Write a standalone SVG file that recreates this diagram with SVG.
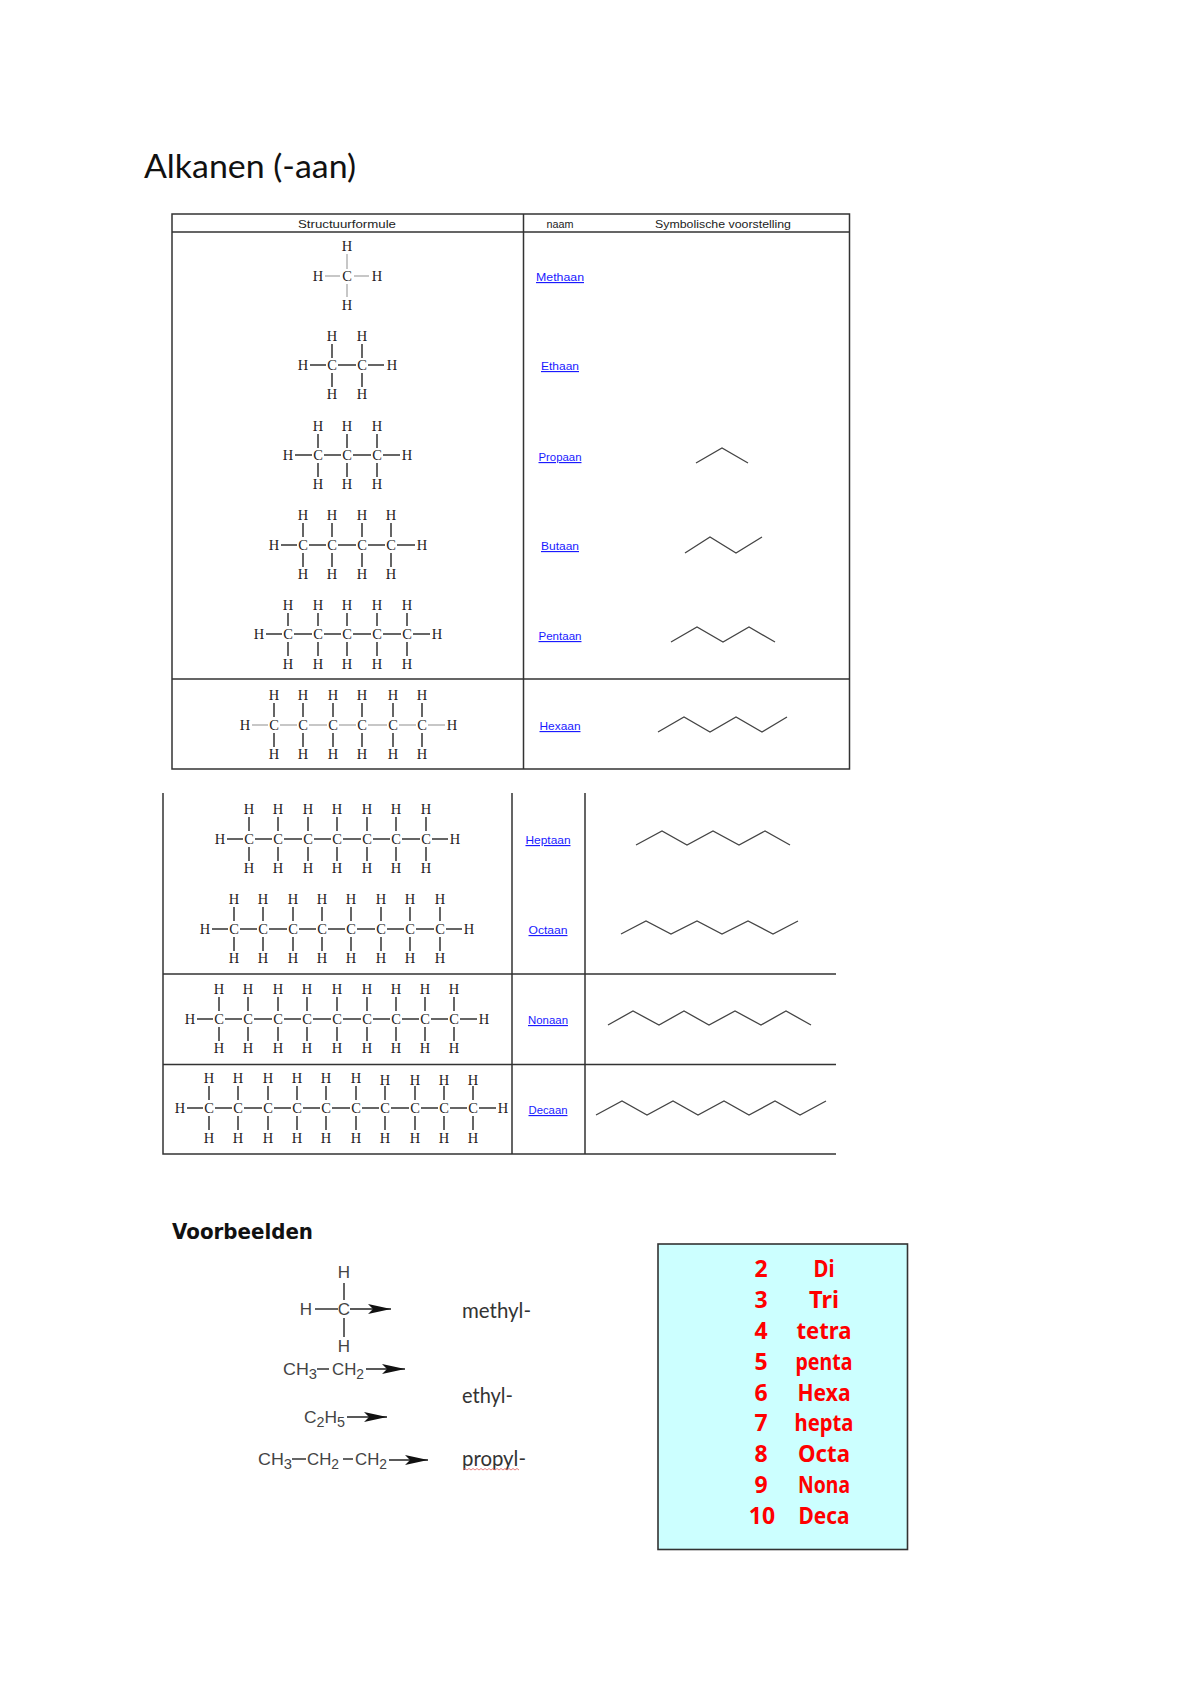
<svg xmlns="http://www.w3.org/2000/svg" width="1200" height="1698" viewBox="0 0 1200 1698">
<defs>
<marker id="ah" markerUnits="userSpaceOnUse" markerWidth="24" markerHeight="12" refX="23" refY="5" orient="auto"><path d="M0 0L23 5L0 10L5 5Z" fill="#111"/></marker>
</defs>
<style>
.a{font:14.5px "Liberation Serif",serif;fill:#222;text-anchor:middle}
.b{fill:none;stroke:#333;stroke-width:1.5}
.g{fill:none;stroke:#b5b5b5;stroke-width:1.5}
.t{fill:none;stroke:#333;stroke-width:1.5}
.z{fill:none;stroke:#444;stroke-width:1.3}
.h{font:11.5px "Liberation Sans",sans-serif;fill:#222;text-anchor:middle}
.l{font:11.5px "Liberation Sans",sans-serif;fill:#1a1aff;text-anchor:middle;text-decoration:underline}
.f{font:17px "Liberation Sans",sans-serif;fill:#444}
.n{font:21px Lato,"Liberation Sans",sans-serif;fill:#333}
.r{font:700 23px "Noto Sans",sans-serif;fill:#ff0000;text-anchor:middle}
.ar{stroke:#222;stroke-width:1.5;fill:none;marker-end:url(#ah)}
</style>
<rect width="1200" height="1698" fill="#fff"/>
<text id="title" x="144" y="178" font-family="Lato, 'Liberation Sans', sans-serif" font-size="33" fill="#111" textLength="212" lengthAdjust="spacingAndGlyphs">Alkanen (-aan)</text>

<g id="table1">
<path class="t" d="M172 214H849.5V769H172ZM172 232H849.5M172 679H849.5M523.5 214V769"/>
<text class="h" x="347" y="228" textLength="98" lengthAdjust="spacingAndGlyphs">Structuurformule</text>
<text class="h" x="560" y="228" textLength="27" lengthAdjust="spacingAndGlyphs">naam</text>
<text class="h" x="723" y="228" textLength="136" lengthAdjust="spacingAndGlyphs">Symbolische voorstelling</text>
<text class="l" x="560" y="281" textLength="48" lengthAdjust="spacingAndGlyphs">Methaan</text>
<text class="l" x="560" y="370" textLength="38" lengthAdjust="spacingAndGlyphs">Ethaan</text>
<text class="l" x="560" y="461" textLength="43" lengthAdjust="spacingAndGlyphs">Propaan</text>
<text class="l" x="560" y="550" textLength="38" lengthAdjust="spacingAndGlyphs">Butaan</text>
<text class="l" x="560" y="640" textLength="43" lengthAdjust="spacingAndGlyphs">Pentaan</text>
<text class="l" x="560" y="730" textLength="41" lengthAdjust="spacingAndGlyphs">Hexaan</text>
</g>

<g id="table2">
<path class="t" d="M163 793V1154H836M512 793V1154M585 793V1154M163 974H836M163 1064.5H836"/>
<text class="l" x="548" y="844" textLength="45" lengthAdjust="spacingAndGlyphs">Heptaan</text>
<text class="l" x="548" y="934" textLength="39" lengthAdjust="spacingAndGlyphs">Octaan</text>
<text class="l" x="548" y="1024" textLength="40" lengthAdjust="spacingAndGlyphs">Nonaan</text>
<text class="l" x="548" y="1114" textLength="39" lengthAdjust="spacingAndGlyphs">Decaan</text>
</g>

<g id="zigzags">
<polyline class="z" points="696,463 722,448 748,463"/>
<polyline class="z" points="685,553 710,537 736,553 762,537"/>
<polyline class="z" points="671,642 697,627 723,642 749,627 775,642"/>
<polyline class="z" points="658,732 684,717 710,732 736,717 762,732 787,717"/>
<polyline class="z" points="636,845 662,831 687,845 713,831 739,845 765,831 790,845"/>
<polyline class="z" points="621,934 646,921 671,934 697,921 722,934 748,921 773,934 798,921"/>
<polyline class="z" points="608,1025 633,1011 659,1025 684,1011 709,1025 735,1011 761,1025 786,1011 811,1025"/>
<polyline class="z" points="596,1115 622,1101 647,1115 673,1101 698,1115 724,1101 749,1115 775,1101 800,1115 826,1101"/>
</g>

<g id="methaan">
<path class="g" d="M347 254V269M347 284V297M325 276H340M354 276H369"/>
<text class="a" x="347" y="251">H</text><text class="a" x="318" y="281">H</text><text class="a" x="347" y="281">C</text><text class="a" x="377" y="281">H</text><text class="a" x="347" y="310">H</text>
</g>
<g id="ethaan">
<path class="b" d="M332 344V358M362 344V358M332 373V387M362 373V387M310 365H326M338 365H356M368 365H384"/>
<text class="a" x="332" y="341">H</text><text class="a" x="362" y="341">H</text>
<text class="a" x="303" y="370">H</text><text class="a" x="332" y="370">C</text><text class="a" x="362" y="370">C</text><text class="a" x="392" y="370">H</text>
<text class="a" x="332" y="399">H</text><text class="a" x="362" y="399">H</text>
</g>
<g id="propaan">
<path class="b" d="M318 434V448M347 434V448M377 434V448M318 463V477M347 463V477M377 463V477M295 455H312M324 455H341M353 455H371M383 455H400"/>
<text class="a" x="318" y="431">H</text><text class="a" x="347" y="431">H</text><text class="a" x="377" y="431">H</text>
<text class="a" x="288" y="460">H</text><text class="a" x="318" y="460">C</text><text class="a" x="347" y="460">C</text><text class="a" x="377" y="460">C</text><text class="a" x="407" y="460">H</text>
<text class="a" x="318" y="489">H</text><text class="a" x="347" y="489">H</text><text class="a" x="377" y="489">H</text>
</g>
<g id="butaan">
<path class="b" d="M303 523V537M332 523V537M362 523V537M391 523V537M303 553V567M332 553V567M362 553V567M391 553V567M281 545H297M309 545H326M338 545H356M368 545H385M397 545H415"/>
<text class="a" x="303" y="520">H</text><text class="a" x="332" y="520">H</text><text class="a" x="362" y="520">H</text><text class="a" x="391" y="520">H</text>
<text class="a" x="274" y="550">H</text><text class="a" x="303" y="550">C</text><text class="a" x="332" y="550">C</text><text class="a" x="362" y="550">C</text><text class="a" x="391" y="550">C</text><text class="a" x="422" y="550">H</text>
<text class="a" x="303" y="579">H</text><text class="a" x="332" y="579">H</text><text class="a" x="362" y="579">H</text><text class="a" x="391" y="579">H</text>
</g>
<g id="pentaan">
<path class="b" d="M288 613V626M318 613V626M347 613V626M377 613V626M407 613V626M288 642V656M318 642V656M347 642V656M377 642V656M407 642V656M266 634H282M294 634H312M324 634H341M353 634H371M383 634H401M413 634H430"/>
<text class="a" x="288" y="610">H</text><text class="a" x="318" y="610">H</text><text class="a" x="347" y="610">H</text><text class="a" x="377" y="610">H</text><text class="a" x="407" y="610">H</text>
<text class="a" x="259" y="639">H</text><text class="a" x="288" y="639">C</text><text class="a" x="318" y="639">C</text><text class="a" x="347" y="639">C</text><text class="a" x="377" y="639">C</text><text class="a" x="407" y="639">C</text><text class="a" x="437" y="639">H</text>
<text class="a" x="288" y="669">H</text><text class="a" x="318" y="669">H</text><text class="a" x="347" y="669">H</text><text class="a" x="377" y="669">H</text><text class="a" x="407" y="669">H</text>
</g>
<g id="hexaan">
<path class="b" d="M274 703V717M303 703V717M333 703V717M362 703V717M393 703V717M422 703V717M274 733V747M303 733V747M333 733V747M362 733V747M393 733V747M422 733V747"/>
<path class="g" d="M252 725H268M280 725H297M309 725H327M339 725H356M368 725H387M399 725H416M428 725H445"/>
<text class="a" x="274" y="700">H</text><text class="a" x="303" y="700">H</text><text class="a" x="333" y="700">H</text><text class="a" x="362" y="700">H</text><text class="a" x="393" y="700">H</text><text class="a" x="422" y="700">H</text>
<text class="a" x="245" y="730">H</text><text class="a" x="274" y="730">C</text><text class="a" x="303" y="730">C</text><text class="a" x="333" y="730">C</text><text class="a" x="362" y="730">C</text><text class="a" x="393" y="730">C</text><text class="a" x="422" y="730">C</text><text class="a" x="452" y="730">H</text>
<text class="a" x="274" y="759">H</text><text class="a" x="303" y="759">H</text><text class="a" x="333" y="759">H</text><text class="a" x="362" y="759">H</text><text class="a" x="393" y="759">H</text><text class="a" x="422" y="759">H</text>
</g>
<g id="heptaan">
<path class="b" d="M249 817V831M278 817V831M308 817V831M337 817V831M367 817V831M396 817V831M426 817V831M249 847V861M278 847V861M308 847V861M337 847V861M367 847V861M396 847V861M426 847V861M227 839H243M255 839H272M284 839H302M314 839H331M343 839H361M373 839H390M402 839H420M432 839H448"/>
<text class="a" x="249" y="814">H</text><text class="a" x="278" y="814">H</text><text class="a" x="308" y="814">H</text><text class="a" x="337" y="814">H</text><text class="a" x="367" y="814">H</text><text class="a" x="396" y="814">H</text><text class="a" x="426" y="814">H</text>
<text class="a" x="220" y="844">H</text><text class="a" x="249" y="844">C</text><text class="a" x="278" y="844">C</text><text class="a" x="308" y="844">C</text><text class="a" x="337" y="844">C</text><text class="a" x="367" y="844">C</text><text class="a" x="396" y="844">C</text><text class="a" x="426" y="844">C</text><text class="a" x="455" y="844">H</text>
<text class="a" x="249" y="873">H</text><text class="a" x="278" y="873">H</text><text class="a" x="308" y="873">H</text><text class="a" x="337" y="873">H</text><text class="a" x="367" y="873">H</text><text class="a" x="396" y="873">H</text><text class="a" x="426" y="873">H</text>
</g>
<g id="octaan">
<path class="b" d="M234 907V921M263 907V921M293 907V921M322 907V921M351 907V921M381 907V921M410 907V921M440 907V921M234 937V951M263 937V951M293 937V951M322 937V951M351 937V951M381 937V951M410 937V951M440 937V951M212 929H228M240 929H257M269 929H287M299 929H316M328 929H345M357 929H375M387 929H404M416 929H434M446 929H462"/>
<text class="a" x="234" y="904">H</text><text class="a" x="263" y="904">H</text><text class="a" x="293" y="904">H</text><text class="a" x="322" y="904">H</text><text class="a" x="351" y="904">H</text><text class="a" x="381" y="904">H</text><text class="a" x="410" y="904">H</text><text class="a" x="440" y="904">H</text>
<text class="a" x="205" y="934">H</text><text class="a" x="234" y="934">C</text><text class="a" x="263" y="934">C</text><text class="a" x="293" y="934">C</text><text class="a" x="322" y="934">C</text><text class="a" x="351" y="934">C</text><text class="a" x="381" y="934">C</text><text class="a" x="410" y="934">C</text><text class="a" x="440" y="934">C</text><text class="a" x="469" y="934">H</text>
<text class="a" x="234" y="963">H</text><text class="a" x="263" y="963">H</text><text class="a" x="293" y="963">H</text><text class="a" x="322" y="963">H</text><text class="a" x="351" y="963">H</text><text class="a" x="381" y="963">H</text><text class="a" x="410" y="963">H</text><text class="a" x="440" y="963">H</text>
</g>
<g id="nonaan">
<path class="b" d="M219 997V1011M248 997V1011M278 997V1011M307 997V1011M337 997V1011M367 997V1011M396 997V1011M425 997V1011M454 997V1011M219 1027V1041M248 1027V1041M278 1027V1041M307 1027V1041M337 1027V1041M367 1027V1041M396 1027V1041M425 1027V1041M454 1027V1041M197 1019H213M225 1019H242M254 1019H272M284 1019H301M313 1019H331M343 1019H361M373 1019H390M402 1019H419M431 1019H448M460 1019H477"/>
<text class="a" x="219" y="994">H</text><text class="a" x="248" y="994">H</text><text class="a" x="278" y="994">H</text><text class="a" x="307" y="994">H</text><text class="a" x="337" y="994">H</text><text class="a" x="367" y="994">H</text><text class="a" x="396" y="994">H</text><text class="a" x="425" y="994">H</text><text class="a" x="454" y="994">H</text>
<text class="a" x="190" y="1024">H</text><text class="a" x="219" y="1024">C</text><text class="a" x="248" y="1024">C</text><text class="a" x="278" y="1024">C</text><text class="a" x="307" y="1024">C</text><text class="a" x="337" y="1024">C</text><text class="a" x="367" y="1024">C</text><text class="a" x="396" y="1024">C</text><text class="a" x="425" y="1024">C</text><text class="a" x="454" y="1024">C</text><text class="a" x="484" y="1024">H</text>
<text class="a" x="219" y="1053">H</text><text class="a" x="248" y="1053">H</text><text class="a" x="278" y="1053">H</text><text class="a" x="307" y="1053">H</text><text class="a" x="337" y="1053">H</text><text class="a" x="367" y="1053">H</text><text class="a" x="396" y="1053">H</text><text class="a" x="425" y="1053">H</text><text class="a" x="454" y="1053">H</text>
</g>
<g id="decaan">
<path class="b" d="M209 1086V1100M238 1086V1100M268 1086V1100M297 1086V1100M326 1086V1100M356 1086V1100M385 1086V1100M415 1086V1100M444 1086V1100M473 1086V1100M209 1116V1130M238 1116V1130M268 1116V1130M297 1116V1130M326 1116V1130M356 1116V1130M385 1116V1130M415 1116V1130M444 1116V1130M473 1116V1130M187 1108H203M215 1108H232M244 1108H262M274 1108H291M303 1108H320M332 1108H350M362 1108H379M391 1108H409M421 1108H438M450 1108H467M479 1108H496"/>
<text class="a" x="209" y="1083">H</text><text class="a" x="238" y="1083">H</text><text class="a" x="268" y="1083">H</text><text class="a" x="297" y="1083">H</text><text class="a" x="326" y="1083">H</text><text class="a" x="356" y="1083">H</text><text class="a" x="385" y="1085">H</text><text class="a" x="415" y="1085">H</text><text class="a" x="444" y="1085">H</text><text class="a" x="473" y="1085">H</text>
<text class="a" x="180" y="1113">H</text><text class="a" x="209" y="1113">C</text><text class="a" x="238" y="1113">C</text><text class="a" x="268" y="1113">C</text><text class="a" x="297" y="1113">C</text><text class="a" x="326" y="1113">C</text><text class="a" x="356" y="1113">C</text><text class="a" x="385" y="1113">C</text><text class="a" x="415" y="1113">C</text><text class="a" x="444" y="1113">C</text><text class="a" x="473" y="1113">C</text><text class="a" x="503" y="1113">H</text>
<text class="a" x="209" y="1143">H</text><text class="a" x="238" y="1143">H</text><text class="a" x="268" y="1143">H</text><text class="a" x="297" y="1143">H</text><text class="a" x="326" y="1143">H</text><text class="a" x="356" y="1143">H</text><text class="a" x="385" y="1143">H</text><text class="a" x="415" y="1143">H</text><text class="a" x="444" y="1143">H</text><text class="a" x="473" y="1143">H</text>
</g>

<text id="voorbeelden" x="172" y="1239" font-family="'DejaVu Sans', sans-serif" font-weight="700" font-size="21" fill="#111" textLength="141" lengthAdjust="spacingAndGlyphs">Voorbeelden</text>

<g id="methyl-example">
<path class="b" d="M315 1309H338M344 1283V1300M344 1318V1337"/>
<text class="f" x="306" y="1315" text-anchor="middle">H</text><text class="f" x="344" y="1315" text-anchor="middle">C</text><text class="f" x="344" y="1278" text-anchor="middle">H</text><text class="f" x="344" y="1352" text-anchor="middle">H</text>
<text class="n" x="462" y="1318" textLength="69" lengthAdjust="spacingAndGlyphs">methyl-</text>
</g>
<g id="ethyl-example">
<path class="b" d="M317 1369H329"/>
<text class="f" x="283" y="1375" textLength="34" lengthAdjust="spacingAndGlyphs">CH<tspan font-size="14" dy="4">3</tspan></text>
<text class="f" x="332" y="1375" textLength="32" lengthAdjust="spacingAndGlyphs">CH<tspan font-size="14" dy="4">2</tspan></text>
<text class="f" x="304" y="1423" textLength="41" lengthAdjust="spacingAndGlyphs">C<tspan font-size="14" dy="4">2</tspan><tspan dy="-4">H</tspan><tspan font-size="14" dy="4">5</tspan></text>
<text class="n" x="462" y="1403" textLength="51" lengthAdjust="spacingAndGlyphs">ethyl-</text>
</g>
<g id="propyl-example">
<path class="b" d="M292 1459H306M343 1459H353"/>
<text class="f" x="258" y="1465" textLength="34" lengthAdjust="spacingAndGlyphs">CH<tspan font-size="14" dy="4">3</tspan></text>
<text class="f" x="307" y="1465" textLength="32" lengthAdjust="spacingAndGlyphs">CH<tspan font-size="14" dy="4">2</tspan></text>
<text class="f" x="355" y="1465" textLength="32" lengthAdjust="spacingAndGlyphs">CH<tspan font-size="14" dy="4">2</tspan></text>
<text class="n" x="462" y="1466" textLength="64" lengthAdjust="spacingAndGlyphs">propyl-</text>
<path d="M463 1470l2-1.5 2 1.5 2-1.5 2 1.5 2-1.5 2 1.5 2-1.5 2 1.5 2-1.5 2 1.5 2-1.5 2 1.5 2-1.5 2 1.5 2-1.5 2 1.5 2-1.5 2 1.5 2-1.5 2 1.5 2-1.5 2 1.5 2-1.5 2 1.5 2-1.5 2 1.5 2-1.5 2 1.5" fill="none" stroke="#e06060" stroke-width="0.8"/>
</g>
<g id="connectors">
<line class="ar" x1="350" y1="1309" x2="391" y2="1309"/>
<line class="ar" x1="366" y1="1369" x2="405" y2="1369"/>
<line class="ar" x1="347" y1="1417" x2="387" y2="1417"/>
<line class="ar" x1="389" y1="1460" x2="428" y2="1460"/>
</g>

<g id="prefix-box">
<rect x="658" y="1244" width="249.5" height="305.5" fill="#ccffff" stroke="#333" stroke-width="1.6"/>
<text class="r" x="761" y="1277">2</text><text class="r" x="824" y="1277" textLength="21" lengthAdjust="spacingAndGlyphs">Di</text>
<text class="r" x="761" y="1308">3</text><text class="r" x="824" y="1308" textLength="30" lengthAdjust="spacingAndGlyphs">Tri</text>
<text class="r" x="761" y="1339">4</text><text class="r" x="824" y="1339" textLength="55" lengthAdjust="spacingAndGlyphs">tetra</text>
<text class="r" x="761" y="1370">5</text><text class="r" x="824" y="1370" textLength="57" lengthAdjust="spacingAndGlyphs">penta</text>
<text class="r" x="761" y="1401">6</text><text class="r" x="824" y="1401" textLength="53" lengthAdjust="spacingAndGlyphs">Hexa</text>
<text class="r" x="761" y="1431">7</text><text class="r" x="824" y="1431" textLength="59" lengthAdjust="spacingAndGlyphs">hepta</text>
<text class="r" x="761" y="1462">8</text><text class="r" x="824" y="1462" textLength="52" lengthAdjust="spacingAndGlyphs">Octa</text>
<text class="r" x="761" y="1493">9</text><text class="r" x="824" y="1493" textLength="52" lengthAdjust="spacingAndGlyphs">Nona</text>
<text class="r" x="762" y="1524">10</text><text class="r" x="824" y="1524" textLength="51" lengthAdjust="spacingAndGlyphs">Deca</text>
</g>
</svg>
